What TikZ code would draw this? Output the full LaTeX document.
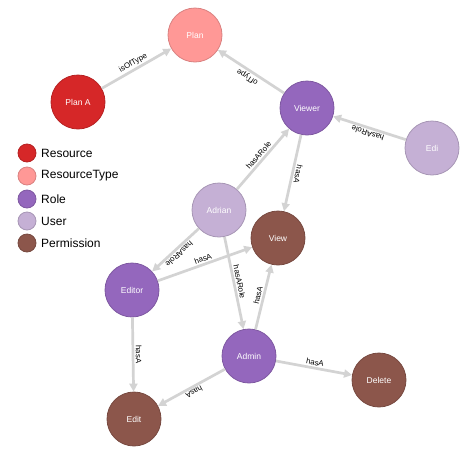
\documentclass[tikz,border=0pt]{standalone}
\usepackage{fontspec}
\setmainfont{Liberation Sans}
\usetikzlibrary{arrows.meta}
\definecolor{res}{HTML}{D62728}
\definecolor{rtype}{HTML}{FF9896}
\definecolor{role}{HTML}{9467BD}
\definecolor{usr}{HTML}{C5B0D5}
\definecolor{perm}{HTML}{8C564B}
\definecolor{link}{HTML}{D3D3D3}
\tikzset{
  ent/.style={circle,minimum size=54pt,inner sep=0pt,text=white,font=\fontsize{8.5}{9}\selectfont,line width=0.8pt},
  resource/.style={ent,fill=res,draw=res!85!black},
  rtypebox/.style={ent,fill=rtype,draw=rtype!85!black},
  rolebox/.style={ent,fill=role,draw=role!85!black},
  userbox/.style={ent,fill=usr,draw=usr!85!black},
  permbox/.style={ent,fill=perm,draw=perm!85!black},
  arr/.style={-{Triangle[length=8pt,width=8pt]},line width=2.7pt,color=link},
  lbl/.style={font=\fontsize{7.8}{8}\selectfont,text=black,sloped,allow upside down,above,inner sep=1.5pt},
  key/.style={circle,minimum size=18pt,inner sep=0pt,line width=0.8pt},
  keytxt/.style={right,font=\fontsize{12}{14}\selectfont,inner sep=0pt}}

\begin{document}
\begin{tikzpicture}[x=1pt,y=-1pt]
\useasboundingbox (0,0) rectangle (474,456);
% entities
\node[rtypebox] (plan) at (195,35) {Plan};
\node[resource] (plana) at (78,102) {Plan A};
\node[rolebox] (viewer) at (307,108) {Viewer};
\node[userbox] (edi) at (432,148) {Edi};
\node[userbox] (adrian) at (219,210) {Adrian};
\node[permbox] (view) at (278,238) {View};
\node[rolebox] (editor) at (132,290) {Editor};
\node[rolebox] (admin) at (249,356) {Admin};
\node[permbox] (delete) at (379,380) {Delete};
\node[permbox] (edit) at (134,419) {Edit};
% relations
\draw[arr] (plana) -- node[lbl]{isOfType} (plan);
\draw[arr] (viewer) -- node[lbl]{ofType} (plan);
\draw[arr] (edi) -- node[lbl]{hasARole} (viewer);
\draw[arr] (adrian) -- node[lbl]{hasARole} (viewer);
\draw[arr] (viewer) -- node[lbl]{hasA} (view);
\draw[arr] (adrian) -- node[lbl]{hasARole} (editor);
\draw[arr] (editor) -- node[lbl]{hasA} (view);
\draw[arr] (adrian) -- node[lbl]{hasARole} (admin);
\draw[arr] (admin) -- node[lbl]{hasA} (view);
\draw[arr] (editor) -- node[lbl]{hasA} (edit);
\draw[arr] (admin) -- node[lbl]{hasA} (edit);
\draw[arr] (admin) -- node[lbl]{hasA} (delete);
% legend
\node[key,fill=res,draw=res!85!black] (k1) at (27,153) {};
\node[keytxt] (t1) at (41,153) {Resource};
\node[key,fill=rtype,draw=rtype!85!black] (k2) at (27,176) {};
\node[keytxt] (t2) at (41,176) {ResourceType};
\node[key,fill=role,draw=role!85!black] (k3) at (27,199) {};
\node[keytxt] (t3) at (41,199) {Role};
\node[key,fill=usr,draw=usr!85!black] (k4) at (27,221) {};
\node[keytxt] (t4) at (41,221) {User};
\node[key,fill=perm,draw=perm!85!black] (k5) at (27,243) {};
\node[keytxt] (t5) at (41,243) {Permission};
\end{tikzpicture}
\end{document}
